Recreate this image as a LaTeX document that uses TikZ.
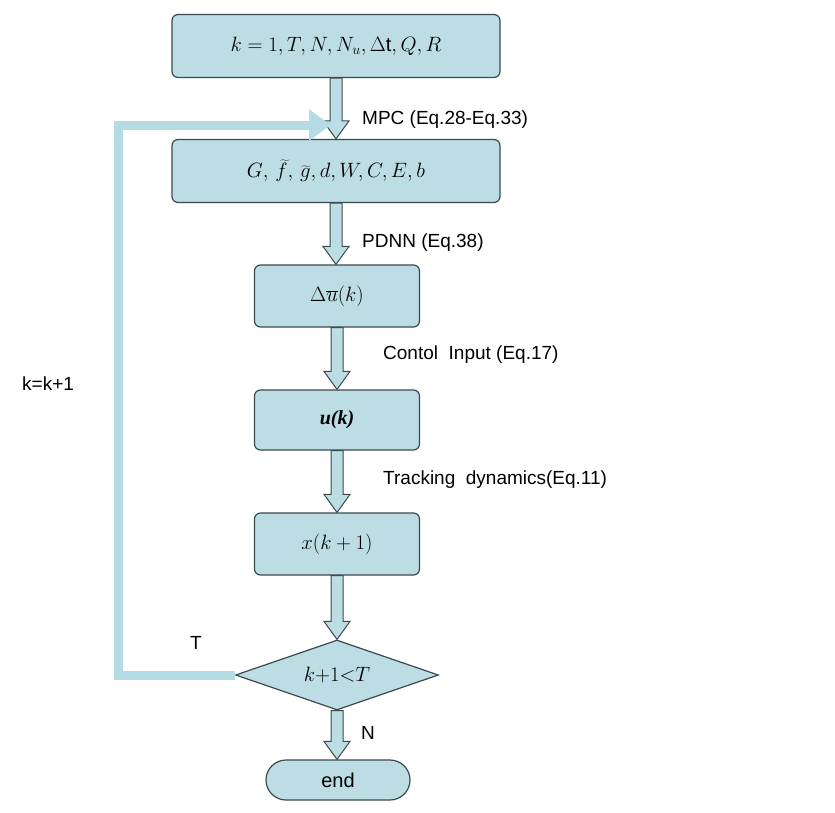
\documentclass[tikz,border=0pt]{standalone}
\usepackage{fontspec}
\setmainfont{Liberation Sans}
\newfontfamily\tms{Liberation Serif}
\usetikzlibrary{shapes.geometric,shapes.misc,arrows.meta,calc}
\definecolor{boxfill}{HTML}{BCDDE3}
\definecolor{loopc}{HTML}{B5DCE4}
\definecolor{edge}{HTML}{3A4A4E}
\tikzset{
  box/.style={draw=edge, line width=1.2pt, fill=boxfill, rounded corners=6pt, inner sep=0pt, font=\fontsize{20}{24}\selectfont},
  harrow/.style={draw=edge, line width=1pt, fill=boxfill, line join=miter},
  lab/.style={anchor=west, font=\fontsize{19}{22}\selectfont, inner sep=0pt}
}
\newcommand\hollowarrow[2]{\draw[harrow] let \p1=(#1.south), \p2=(#2.north) in
  (\x1-6pt,\y1) -- (\x1-6pt,\y2+18pt) -- (\x1-13pt,\y2+18pt) -- (\x1,\y2) -- (\x1+13pt,\y2+18pt) -- (\x1+6pt,\y2+18pt) -- (\x1+6pt,\y1) -- cycle;}
\begin{document}
\begin{tikzpicture}[x=1pt,y=1pt]
\useasboundingbox (0,0) rectangle (835,-812);
\node[box, minimum width=328pt, minimum height=63pt] (b1) at (336,-46) {$k=1,T,N,N_u,\Delta\mathrm{t},Q,R$};
\node[box, minimum width=328pt, minimum height=63pt] (b2) at (336,-171) {$G,\,\widetilde{f},\,\widetilde{g},d,W,C,E,b$};
\node[box, minimum width=165pt, minimum height=62pt] (b3) at (337,-296) {$\Delta\overline{u}(k)$};
\node[box, minimum width=165pt, minimum height=60pt] (b4) at (337,-420) {\tms\bfseries\itshape u(k)};
\node[box, minimum width=165pt, minimum height=62pt] (b5) at (337,-544) {$x(k+1)$};
\node[draw=edge, line width=1.2pt, fill=boxfill, diamond, inner sep=0pt, minimum width=203pt, minimum height=70pt] (d) at (337,-675) {};
\node[font=\fontsize{20}{24}\selectfont] (dt) at (d.center) {$k{+}1{<}T$};
\node[draw=edge, line width=1.2pt, fill=boxfill, rounded rectangle, minimum width=144pt, minimum height=40pt, inner sep=0pt, font=\fontsize{20}{24}\selectfont] (e) at (338,-780) {end};
\hollowarrow{b1}{b2}
\hollowarrow{b2}{b3}
\hollowarrow{b3}{b4}
\hollowarrow{b4}{b5}
\hollowarrow{b5}{d}
\hollowarrow{d}{e}
\coordinate (c1) at (118,-675);
\coordinate (c2) at (118,-125);
\coordinate (c3) at (331,-125);
\draw[loopc, line width=9pt, -{Triangle[length=22pt 0 0, width=30pt 0 0]}] (d.west) -- (c1) -- (c2) -- (c3);
\node[lab] (l1) at (362,-120) {MPC (Eq.28-Eq.33)};
\node[lab] (l2) at (362,-243) {PDNN (Eq.38)};
\node[lab] (l3) at (383,-355) {Contol\ \ Input (Eq.17)};
\node[lab] (l4) at (383,-480) {Tracking\ \ dynamics(Eq.11)};
\node[lab] (l5) at (22,-384) {k=k+1};
\node[lab] (l6) at (190,-643) {T};
\node[lab] (l7) at (361,-733) {N};
\end{tikzpicture}
\end{document}
